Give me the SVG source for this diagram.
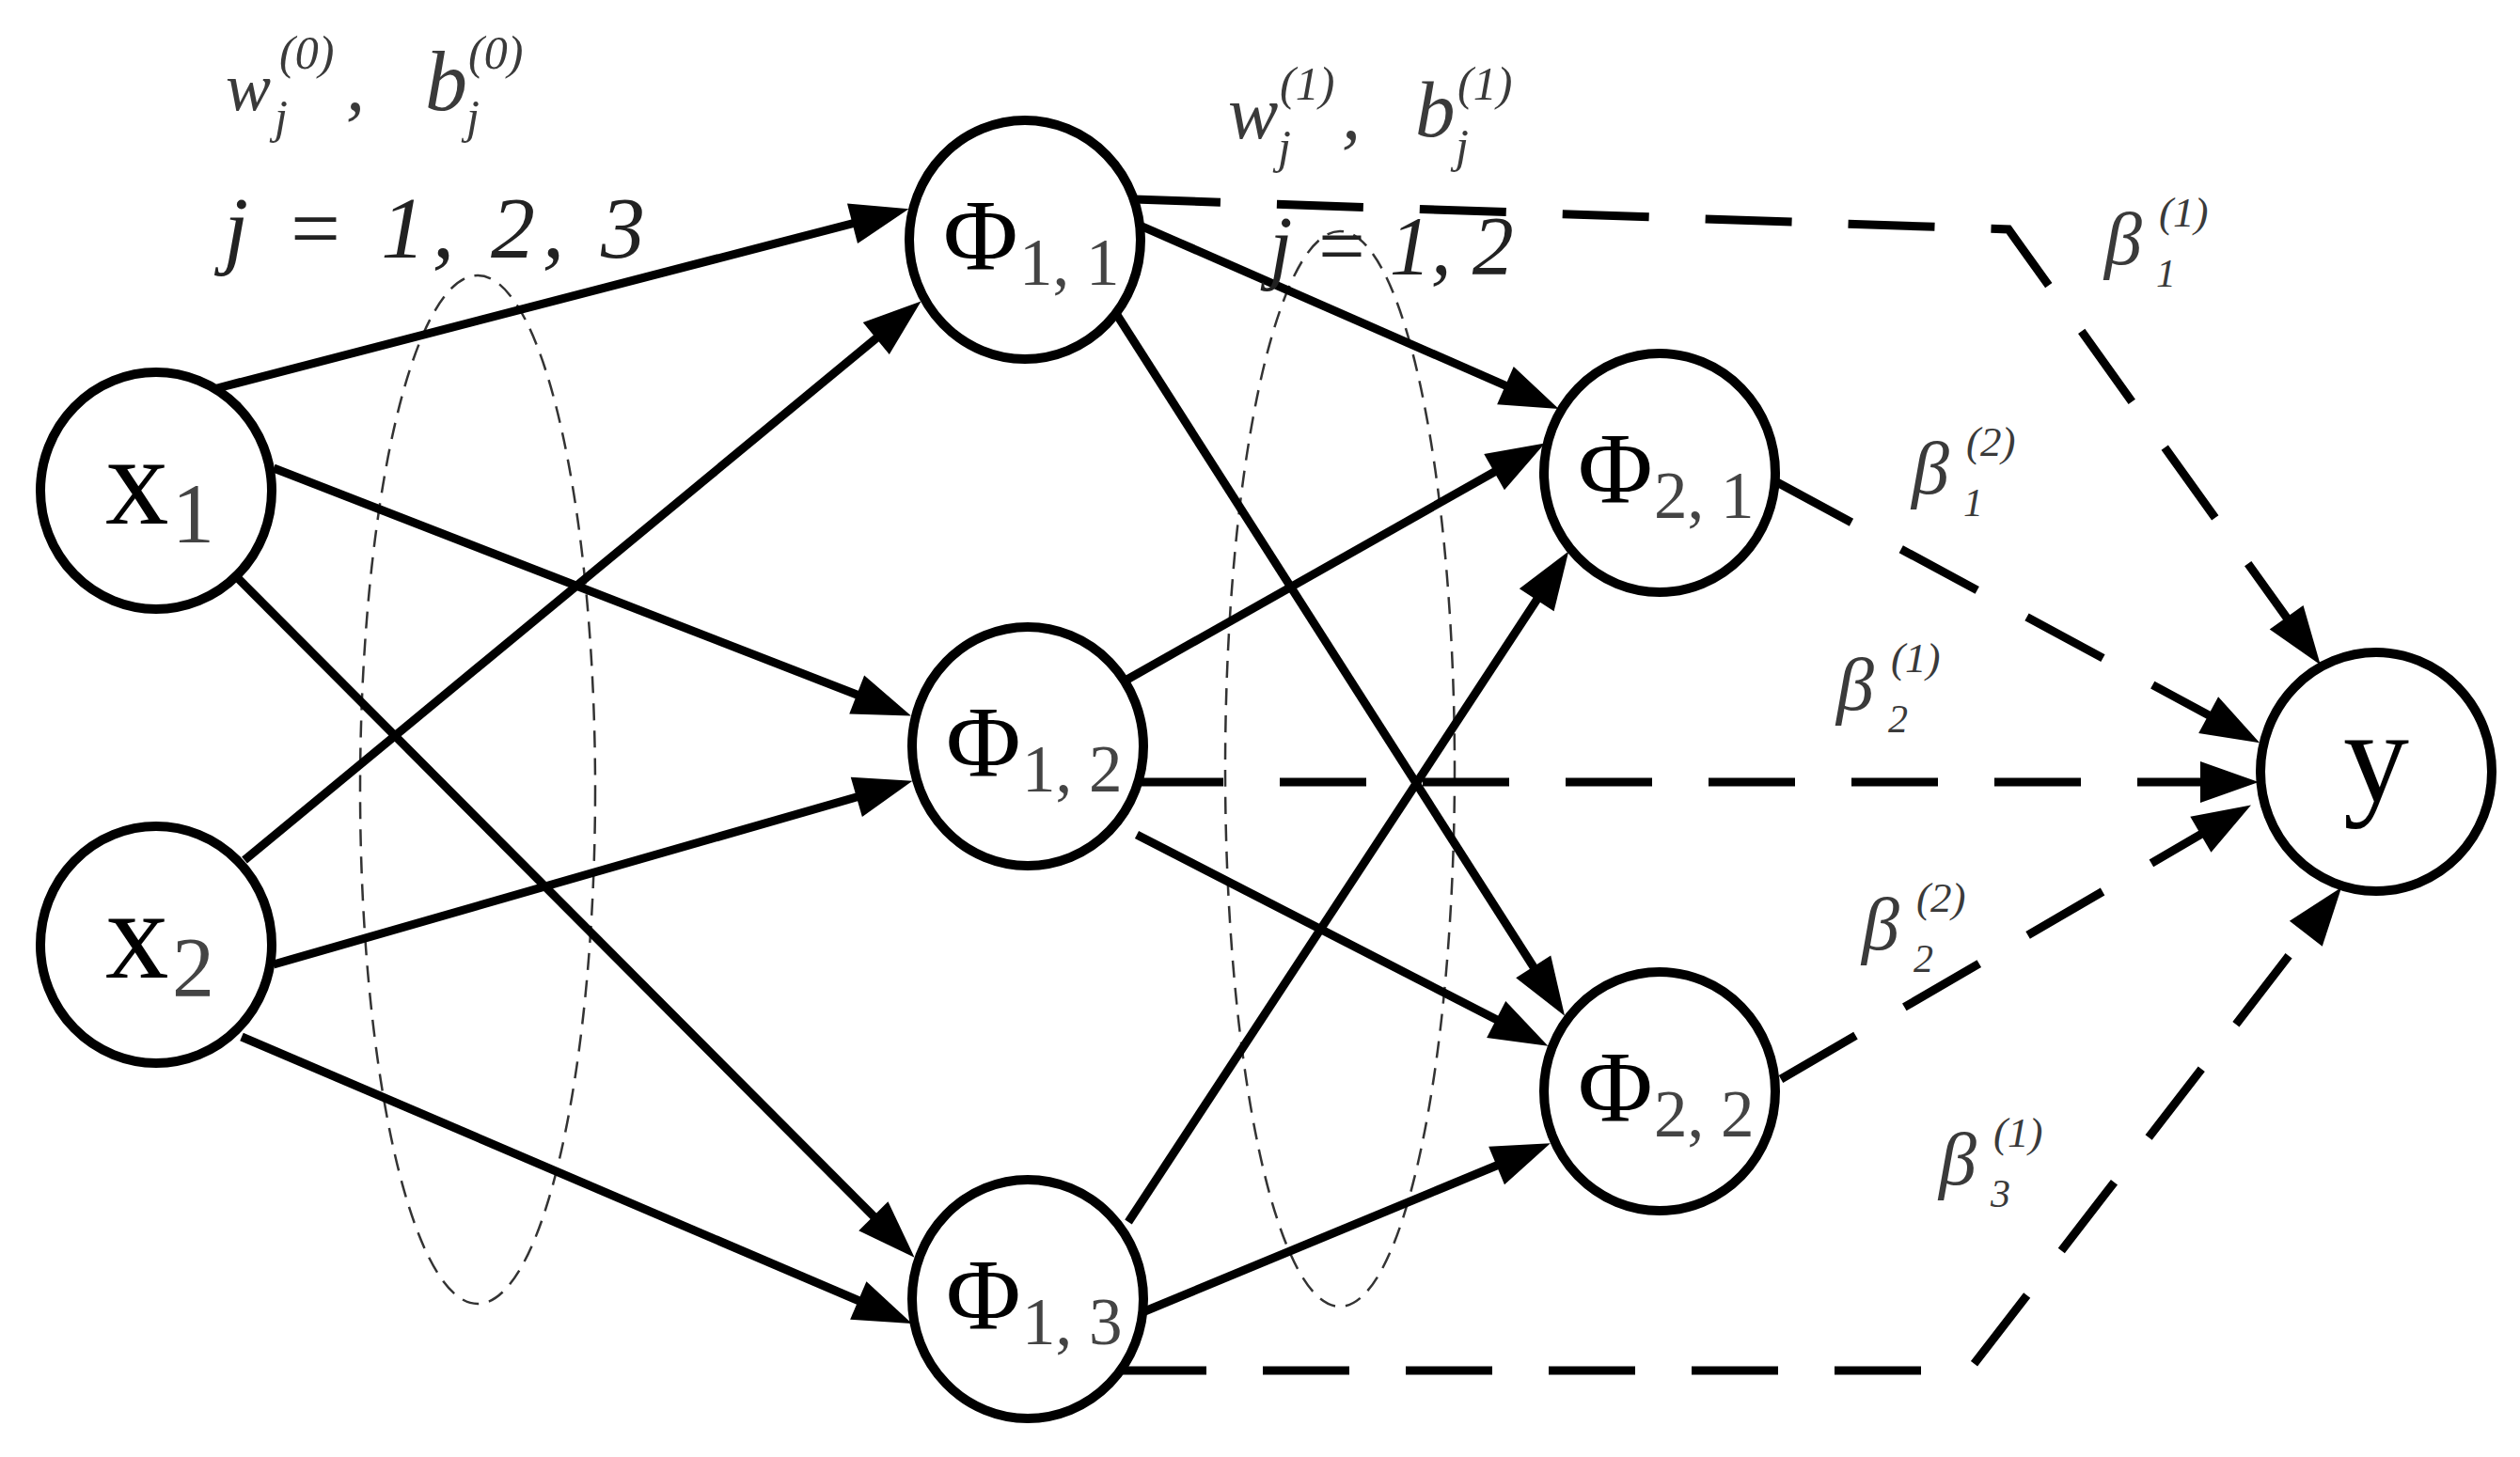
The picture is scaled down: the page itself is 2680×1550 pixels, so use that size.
<svg xmlns="http://www.w3.org/2000/svg" width="2680" height="1550" viewBox="0 0 2680 1550">
<style>
.node{fill:#fff;stroke:#000;stroke-width:10}
.e{stroke:#000;stroke-width:9;fill:none;marker-end:url(#ah)}
.d{stroke:#000;stroke-width:9;fill:none;stroke-dasharray:92 60;marker-end:url(#ah)}
.ell{fill:none;stroke:#333;stroke-width:2.5;stroke-dasharray:18 11}
.nl{font-family:"Liberation Serif",serif;fill:#000}
.ns{fill:#444}
.it{font-family:"Liberation Serif",serif;font-style:italic;fill:#3a3a3a}
</style>
<defs>
<marker id="ah" markerUnits="userSpaceOnUse" markerWidth="62" markerHeight="44" viewBox="0 0 62 44" refX="47" refY="22" orient="auto" overflow="visible"><path d="M0,0 L62,22 L0,44 z" fill="#000"/></marker>
</defs>
<rect width="2680" height="1550" fill="#fff"/>
<g id="groups">
<ellipse class="ell" cx="508" cy="840" rx="125" ry="547"/>
<ellipse class="ell" cx="1425" cy="818" rx="122" ry="572"/>
</g>
<g id="connectors">
<line class="e" x1="231" y1="413" x2="952" y2="226"/>
<line class="e" x1="291" y1="498" x2="955" y2="756"/>
<line class="e" x1="250" y1="612" x2="962" y2="1327"/>
<line class="e" x1="260" y1="915" x2="968" y2="330"/>
<line class="e" x1="291" y1="1026" x2="956" y2="835"/>
<line class="e" x1="257" y1="1103" x2="956" y2="1402"/>
<line class="e" x1="1208" y1="238" x2="1644" y2="429"/>
<line class="e" x1="1186" y1="332" x2="1656" y2="1068"/>
<line class="e" x1="1195" y1="725" x2="1630" y2="479"/>
<line class="e" x1="1209" y1="888" x2="1633" y2="1106"/>
<line class="e" x1="1200" y1="1300" x2="1660" y2="599"/>
<line class="e" x1="1215" y1="1396" x2="1635" y2="1222"/>
<polyline class="d" points="1206,212 2136,244 2459,695"/>
<line class="d" x1="1888" y1="512" x2="2390" y2="783"/>
<line class="d" x1="1209" y1="832" x2="2387" y2="832"/>
<line class="d" x1="1894" y1="1148" x2="2381" y2="864"/>
<polyline class="d" points="1191,1458 2094,1458 2481,956"/>
</g>
<g id="x1"><ellipse class="node" cx="166" cy="522" rx="123" ry="126"/><text class="nl" font-size="135" x="112" y="557">x<tspan class="ns" font-size="90" x="183" y="577">1</tspan></text></g>
<g id="x2"><ellipse class="node" cx="166" cy="1005" rx="123" ry="126"/><text class="nl" font-size="135" x="112" y="1040">x<tspan class="ns" font-size="90" x="183" y="1060">2</tspan></text></g>
<g id="phi11"><ellipse class="node" cx="1090" cy="255" rx="123" ry="127"/><text class="nl" font-size="109" x="1003" y="287">Φ<tspan class="ns" font-size="71" x="1084" y="303">1, 1</tspan></text></g>
<g id="phi12"><ellipse class="node" cx="1093" cy="794" rx="123" ry="127"/><text class="nl" font-size="109" x="1006" y="826">Φ<tspan class="ns" font-size="71" x="1087" y="842">1, 2</tspan></text></g>
<g id="phi13"><ellipse class="node" cx="1093" cy="1382" rx="123" ry="127"/><text class="nl" font-size="109" x="1006" y="1414">Φ<tspan class="ns" font-size="71" x="1087" y="1430">1, 3</tspan></text></g>
<g id="phi21"><ellipse class="node" cx="1765" cy="503" rx="123" ry="127"/><text class="nl" font-size="109" x="1678" y="535">Φ<tspan class="ns" font-size="71" x="1759" y="551">2, 1</tspan></text></g>
<g id="phi22"><ellipse class="node" cx="1765" cy="1161" rx="123" ry="127"/><text class="nl" font-size="109" x="1678" y="1193">Φ<tspan class="ns" font-size="71" x="1759" y="1209">2, 2</tspan></text></g>
<g id="y"><ellipse class="node" cx="2527" cy="821" rx="123" ry="127"/><text class="nl" font-size="140" x="2527" y="852" text-anchor="middle">y</text></g>
<g id="labels">
<text class="it" font-size="72" x="240" y="117">w<tspan font-size="50" x="297" y="73">(0)</tspan><tspan font-size="50" x="292" y="141">j</tspan><tspan font-size="80" x="368" y="117">,</tspan></text>
<text class="it" font-size="90" x="452" y="117">b<tspan font-size="50" x="498" y="73">(0)</tspan><tspan font-size="50" x="496" y="141">j</tspan></text>
<text class="it" font-size="94" x="238" y="274" textLength="448" lengthAdjust="spacing" style="fill:#222">j = 1, 2, 3</text>
<text class="it" font-size="80" x="1306" y="147">w<tspan font-size="50" x="1361" y="106">(1)</tspan><tspan font-size="50" x="1359" y="173">j</tspan><tspan x="1427" y="147">,</tspan></text>
<text class="it" font-size="85" x="1505" y="145">b<tspan font-size="50" x="1550" y="106">(1)</tspan><tspan font-size="50" x="1548" y="172">j</tspan></text>
<text class="it" font-size="88" x="1350" y="291" style="fill:#222">j = 1, 2</text>
<text class="it" font-size="80" x="2238" y="281">β<tspan font-size="45" x="2296" y="241">(1)</tspan><tspan font-size="42" x="2293" y="305">1</tspan></text>
<text class="it" font-size="80" x="2033" y="525">β<tspan font-size="45" x="2091" y="485">(2)</tspan><tspan font-size="42" x="2088" y="549">1</tspan></text>
<text class="it" font-size="80" x="1953" y="755">β<tspan font-size="45" x="2011" y="715">(1)</tspan><tspan font-size="42" x="2008" y="779">2</tspan></text>
<text class="it" font-size="80" x="1980" y="1010">β<tspan font-size="45" x="2038" y="970">(2)</tspan><tspan font-size="42" x="2035" y="1034">2</tspan></text>
<text class="it" font-size="80" x="2062" y="1260">β<tspan font-size="45" x="2120" y="1220">(1)</tspan><tspan font-size="42" x="2117" y="1284">3</tspan></text>
</g>
</svg>
